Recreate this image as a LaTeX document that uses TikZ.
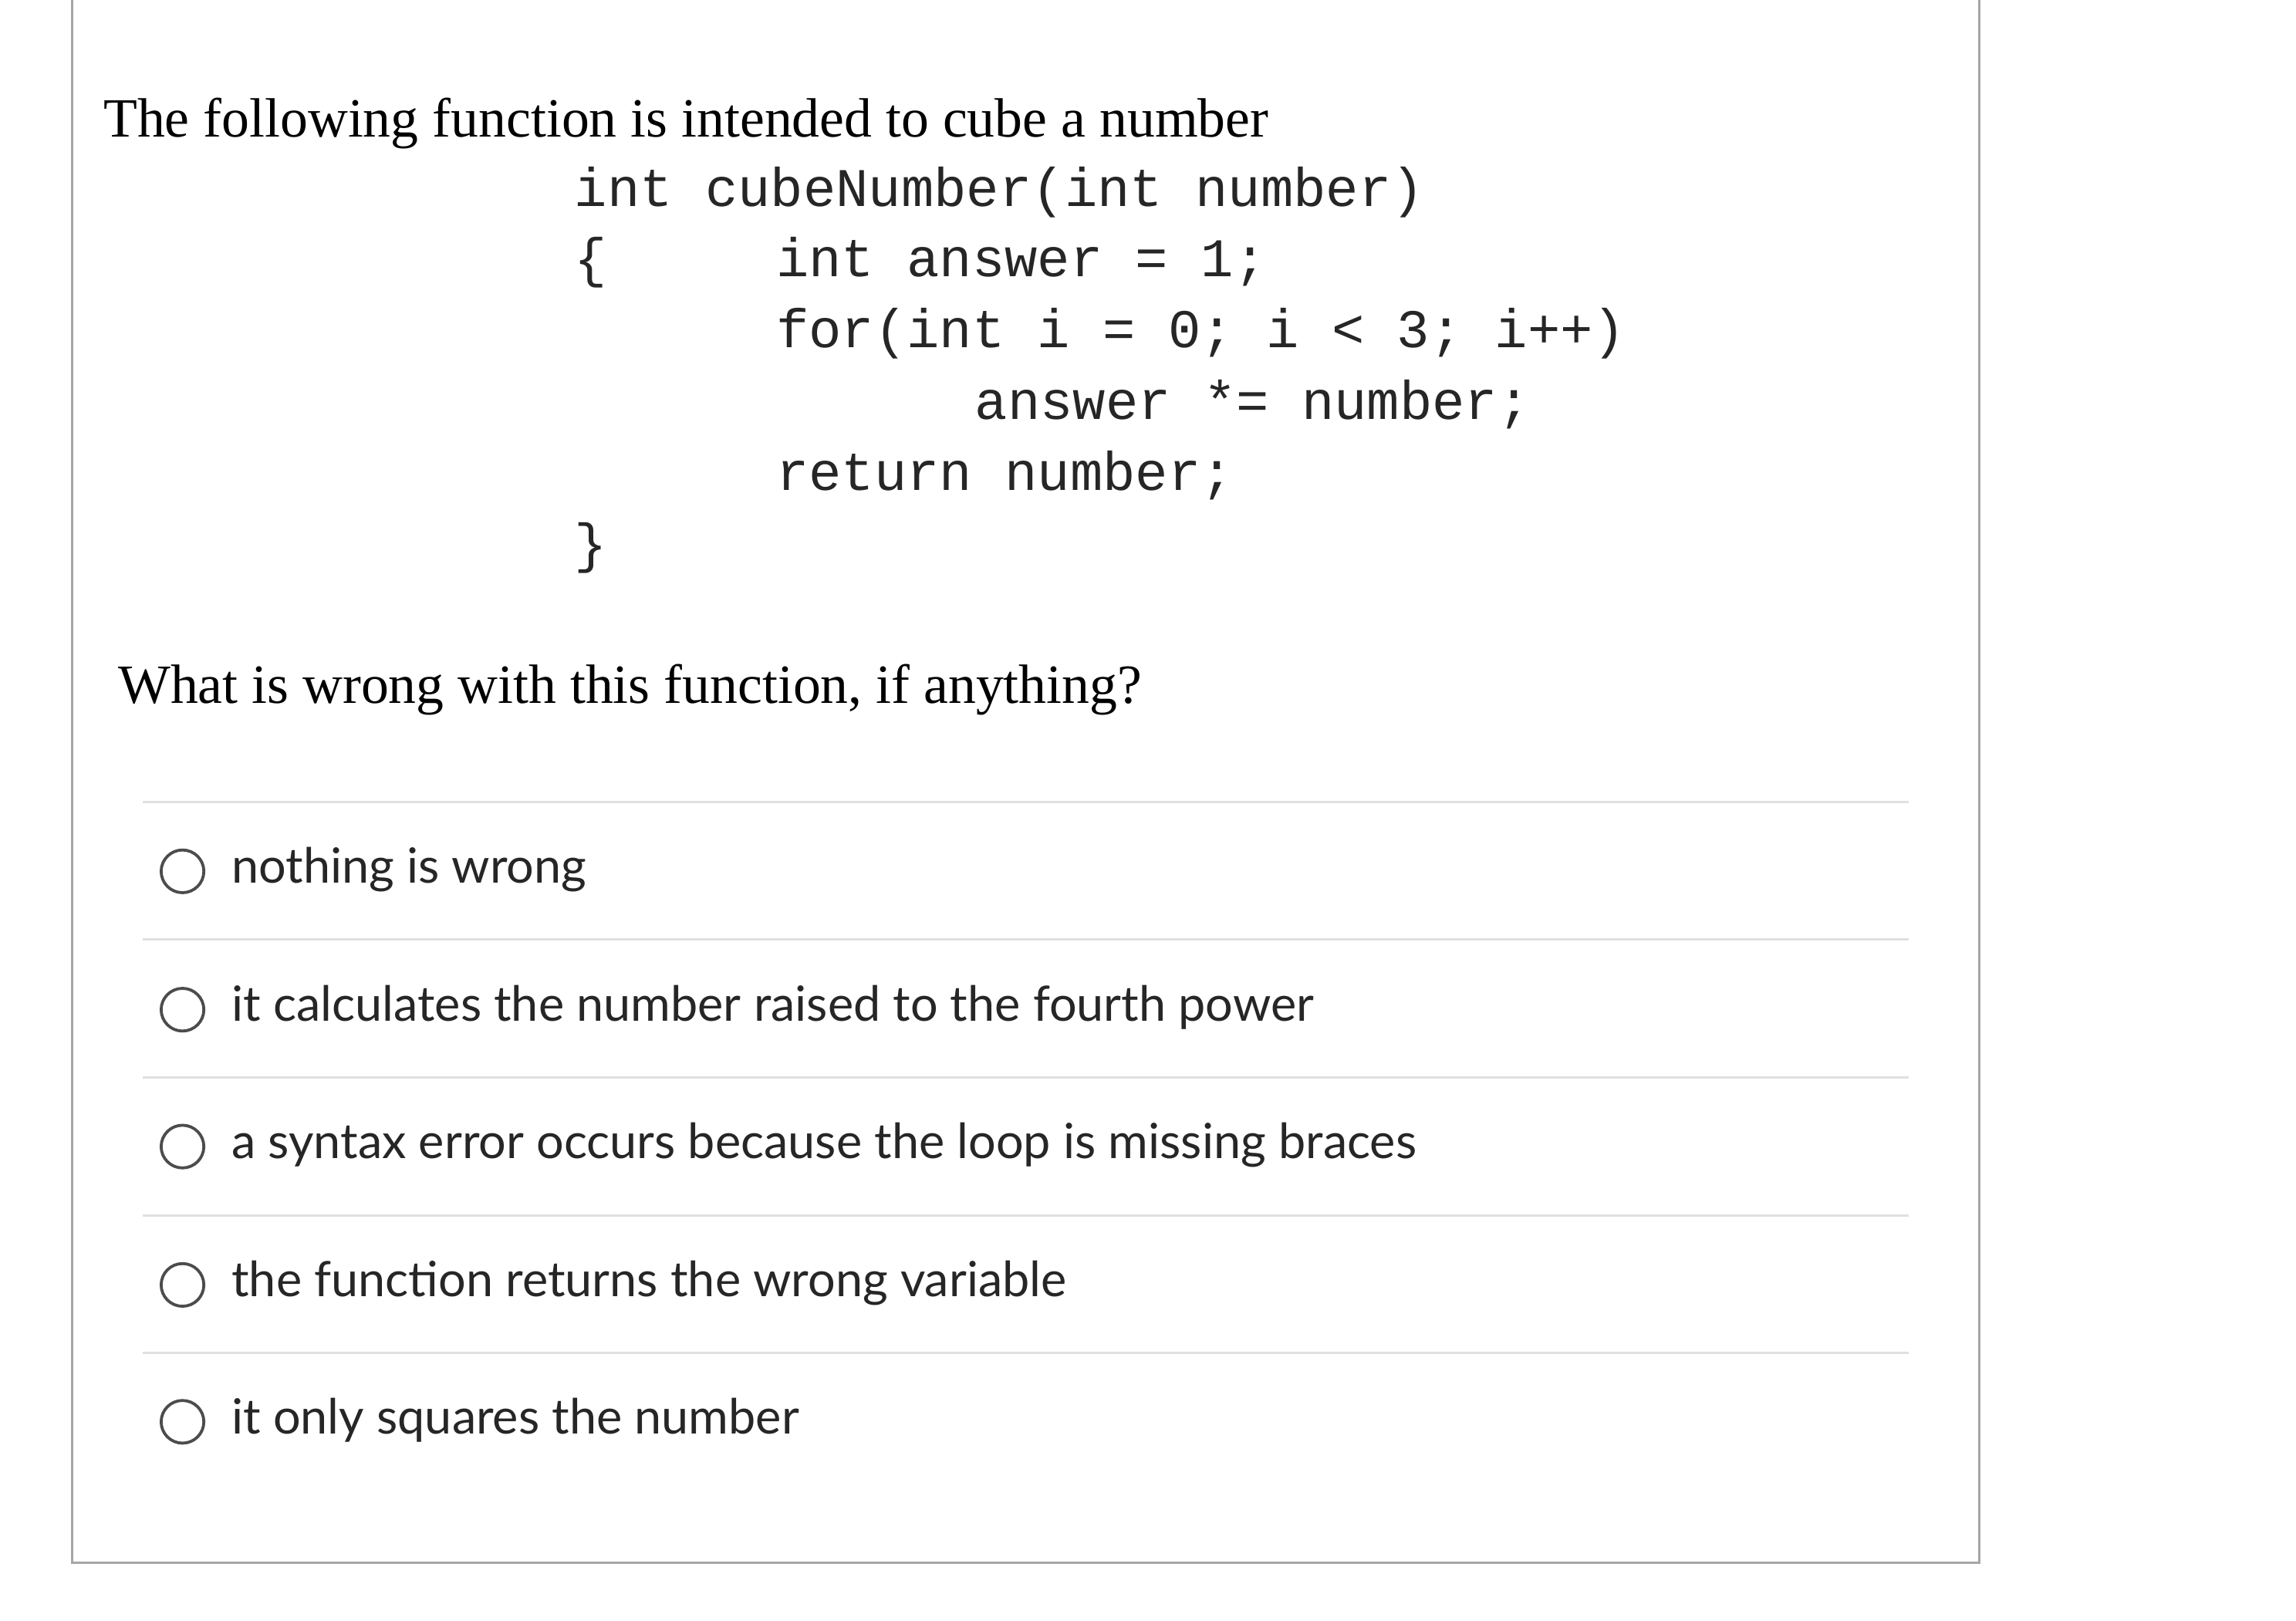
\documentclass[tikz,border=0pt]{standalone}
\usepackage{fontspec}
\setmainfont{Liberation Serif}
\newfontfamily\codefont{Liberation Mono}
\newfontfamily\optfont{Lato}
\begin{document}
\begin{tikzpicture}[x=0.5pt,y=-0.5pt,
  q/.style={anchor=base west,inner sep=0,font=\fontsize{18.8}{20}\selectfont},
  cd/.style={anchor=base west,inner sep=0,font=\codefont\fontsize{18.5}{20}\selectfont,text=black!85},
  op/.style={anchor=base west,inner sep=0,font=\optfont\fontsize{16.5}{20}\selectfont,text=black!85},
  sep/.style={draw=black!12,line width=0.8pt},
  rb/.style={draw=black!70,line width=1pt}]
\useasboundingbox (0,0) rectangle (1560,1101);
\draw[draw=black!35,line width=0.8pt] (49,-10) rectangle (1345,1062);
\node[q] (t1) at (70,93) {The following function is intended to cube a number};
\node[cd] (c1) at (390,140) {int cubeNumber(int number)};
\node[cd] (c2) at (390,188) {\{};
\node[cd] (c2b) at (527,188) {int answer = 1;};
\node[cd] (c3) at (527,236) {for(int i = 0; i < 3; i++)};
\node[cd] (c4) at (662,285) {answer *= number;};
\node[cd] (c5) at (527,333) {return number;};
\node[cd] (c6) at (390,382) {\}};
\node[q] (t2) at (80,478) {What is wrong with this function, if anything?};
\foreach \y in {545,638,732,826,919} \draw[sep] (97,\y) -- (1297,\y);
\foreach \y/\t [count=\i] in {592/nothing is wrong,686/it calculates the number raised to the fourth power,779/a syntax error occurs because the loop is missing braces,873/the function returns the wrong variable,966/it only squares the number}{
  \draw[rb] (124,\y) circle (14.5);
  \node[op] (o\i) at (157,\y+8) {\t};
}
\end{tikzpicture}
\end{document}
